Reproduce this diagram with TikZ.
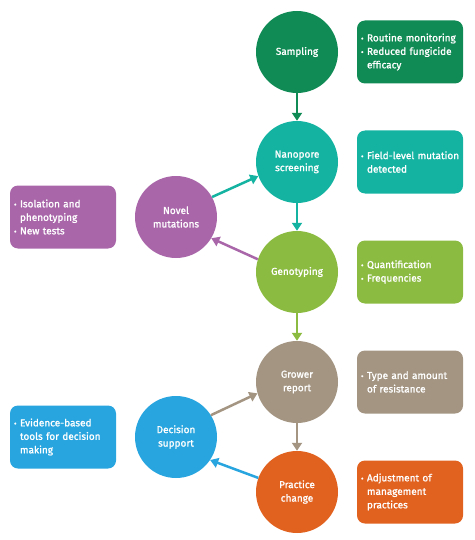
\documentclass[tikz,border=0pt]{standalone}
\usepackage{fontspec}
\setmainfont{Fira Sans}[FakeBold=1.3]
\usepackage{xcolor}
\usetikzlibrary{shapes, arrows.meta, positioning, calc}
\hyphenpenalty=10000

\definecolor{samplegreen}{HTML}{118B55}
\definecolor{nanoteal}{HTML}{14B3A1}
\definecolor{genogreen}{HTML}{8CBB41}
\definecolor{growerbrown}{HTML}{A39582}
\definecolor{practorange}{HTML}{E1611F}
\definecolor{novelpurple}{HTML}{A967AA}
\definecolor{decisblue}{HTML}{28A5DF}

\newcommand{\itm}{\makebox[6pt][l]{\footnotesize\textbullet}}
\newcommand{\cnt}{\hspace*{6pt}}

\begin{document}
\begin{tikzpicture}[x=1pt, y=-1pt, node distance=110pt, >={Triangle[width=10pt,length=8pt]}]
        \tikzstyle{stage} = [circle, minimum size=82pt, inner sep=0pt, text=white, align=center, font=\fontsize{10}{13.5}\selectfont]
        \tikzstyle{info} = [rectangle, rounded corners=8pt, minimum width=106pt, minimum height=63pt, text width=98pt, text=white, align=left, font=\fontsize{10}{13.5}\selectfont]
        \tikzstyle{flow} = [->, line width=2.5pt]

        \useasboundingbox (0,0) rectangle (474,540);

        % --- Hauptkette ---
        \node [stage, fill=samplegreen] at (297,52) (sample) {Sampling};
        \node [stage, fill=nanoteal, below of=sample] (nano) {Nanopore\\screening};
        \node [stage, fill=genogreen, below of=nano] (geno) {Genotyping};
        \node [stage, fill=growerbrown, below of=geno] (grower) {Grower\\report};
        \node [stage, fill=practorange, below of=grower] (practice) {Practice\\change};

        % --- Seitenkreise ---
        \node [stage, fill=novelpurple, left of=nano, node distance=121pt, yshift=-55pt] (novel) {Novel\\mutations};
        \node [stage, fill=decisblue, left of=grower, node distance=121pt, yshift=-55pt] (decision) {Decision\\support};

        % --- Infokaesten rechts ---
        \node [info, fill=samplegreen, right of=sample, node distance=113pt] (sample_info) {\itm Routine monitoring\\\itm Reduced fungicide\\\cnt efficacy};
        \node [info, fill=nanoteal, right of=nano, node distance=113pt] (nano_info) {\itm \mbox{Field-level mutation}\\\cnt detected};
        \node [info, fill=genogreen, right of=geno, node distance=113pt] (geno_info) {\itm Quantification\\\itm Frequencies};
        \node [info, fill=growerbrown, right of=grower, node distance=113pt] (grower_info) {\itm Type and amount\\\cnt of resistance};
        \node [info, fill=practorange, right of=practice, node distance=113pt] (practice_info) {\itm Adjustment of\\\cnt management\\\cnt practices};

        % --- Infokaesten links ---
        \node [info, fill=novelpurple, left of=novel, node distance=113pt] (novel_info) {\itm Isolation and\\\cnt phenotyping\\\itm New tests};
        \node [info, fill=decisblue, left of=decision, node distance=113pt] (decision_info) {\itm Evidence-based\\\cnt tools for decision\\\cnt making};

        % --- Pfeile: Hauptkette ---
        \draw [flow, draw=samplegreen, fill=samplegreen] (sample) -- (nano);
        \draw [flow, draw=nanoteal, fill=nanoteal] (nano) -- (geno);
        \draw [flow, draw=genogreen, fill=genogreen] (geno) -- (grower);
        \draw [flow, draw=growerbrown, fill=growerbrown] (grower) -- (practice);

        % --- Pfeile: Rueckkopplung ---
        \draw [flow, draw=nanoteal, fill=nanoteal] (novel.29) -- (nano.200);
        \draw [flow, draw=novelpurple, fill=novelpurple] (geno.162) -- (novel.329);
        \draw [flow, draw=growerbrown, fill=growerbrown] (decision.32) -- (grower.196);
        \draw [flow, draw=decisblue, fill=decisblue] (practice.160) -- (decision.326);

    \end{tikzpicture}
\end{document}
